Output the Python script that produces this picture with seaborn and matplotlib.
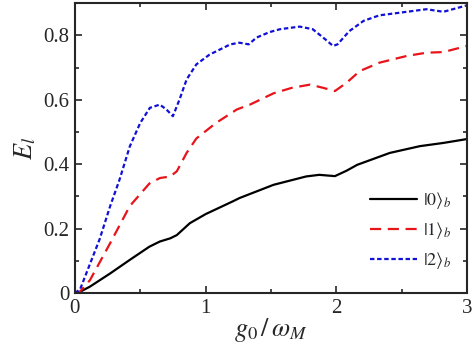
import numpy as np
import pandas as pd
import matplotlib
matplotlib.use("Agg")
import matplotlib.pyplot as plt
import seaborn as sns

# Data
x0 = [0.0, 0.03, 0.115, 0.27, 0.42, 0.57, 0.65, 0.73, 0.78, 0.88, 1.0, 1.21, 1.26, 1.52, 1.77, 1.87, 1.99, 2.08, 2.16, 2.41, 2.64, 2.82, 3.0]
y0 = [0.0, 0.002, 0.02, 0.061, 0.103, 0.144, 0.16, 0.17, 0.18, 0.217, 0.245, 0.285, 0.295, 0.336, 0.362, 0.367, 0.363, 0.38, 0.398, 0.435, 0.456, 0.466, 0.478]

x1 = [0.0, 0.04, 0.115, 0.27, 0.42, 0.57, 0.65, 0.73, 0.78, 0.855, 0.93, 1.08, 1.24, 1.34, 1.52, 1.66, 1.80, 1.90, 1.99, 2.08, 2.18, 2.33, 2.54, 2.69, 2.82, 3.0]
y1 = [0.0, 0.005, 0.04, 0.155, 0.27, 0.34, 0.357, 0.362, 0.378, 0.435, 0.48, 0.528, 0.57, 0.585, 0.62, 0.637, 0.647, 0.637, 0.627, 0.653, 0.689, 0.715, 0.736, 0.746, 0.748, 0.767]

x2 = [0.0, 0.04, 0.19, 0.27, 0.34, 0.42, 0.50, 0.574, 0.65, 0.70, 0.75, 0.80, 0.855, 0.93, 1.03, 1.19, 1.26, 1.33, 1.39, 1.49, 1.57, 1.72, 1.82, 1.90, 1.976, 2.01, 2.10, 2.21, 2.33, 2.54, 2.69, 2.82, 3.0]
y2 = [0.0, 0.012, 0.168, 0.27, 0.35, 0.455, 0.528, 0.575, 0.585, 0.57, 0.549, 0.60, 0.663, 0.71, 0.74, 0.772, 0.777, 0.772, 0.793, 0.81, 0.819, 0.827, 0.819, 0.793, 0.767, 0.772, 0.813, 0.845, 0.862, 0.873, 0.881, 0.873, 0.893]

labels = [r"$|0\rangle_b$", r"$|1\rangle_b$", r"$|2\rangle_b$"]

sns.set_style("ticks")
plt.rcParams["font.family"] = ["Liberation Serif", "DejaVu Serif"]
plt.rcParams["mathtext.fontset"] = "stix"

fig = plt.figure(figsize=(4.74, 3.44), dpi=100)
ax = fig.add_axes([0.158, 0.148, 0.827, 0.843])

styles = [dict(color="black", linestyle="-"),
          dict(color="#e8141a", linestyle=(0, (5, 3))),
          dict(color="#1010d8", linestyle=(0, (2, 1.2)))]
for xs, ys, lab, st in zip([x0, x1, x2], [y0, y1, y2], labels, styles):
    df = pd.DataFrame({"x": xs, "y": ys})
    sns.lineplot(data=df, x="x", y="y", ax=ax, label=lab, linewidth=1.6, **st)

ax.set_xlim(0, 3)
ax.set_ylim(0, 0.9)
ax.set_xticks([0, 1, 2, 3])
ax.set_xticklabels(["0", "1", "2", "3"])
ax.set_yticks([0, 0.2, 0.4, 0.6, 0.8])
ax.set_yticklabels(["0", "0.2", "0.4", "0.6", "0.8"])
ax.set_xticks(np.arange(0, 3.01, 0.5), minor=True)
ax.set_yticks(np.arange(0, 0.91, 0.1), minor=True)
ax.tick_params(which="both", direction="in", top=True, right=True, width=1.2, labelsize=15, pad=4)
ax.tick_params(which="major", length=5)
ax.tick_params(which="minor", length=3)
for s in ax.spines.values():
    s.set_linewidth(1.5)

ax.set_xlabel(r"$g_0\,/\,\omega_M$", fontsize=19, labelpad=-1)
ax.set_ylabel(r"$E_l$", fontsize=19, labelpad=4)

leg = ax.legend(loc="lower right", frameon=False, fontsize=13, handlelength=2.6,
                handletextpad=0.3, labelspacing=0.5, bbox_to_anchor=(1.0, 0.02))

fig.savefig("out.png", dpi=100)
